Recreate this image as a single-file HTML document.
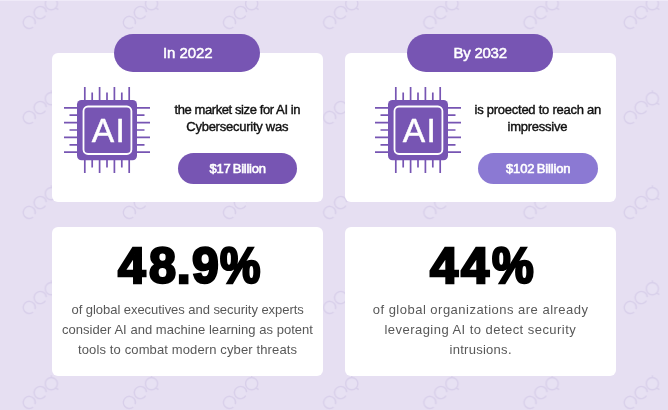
<!DOCTYPE html>
<html lang="en"><head><meta charset="utf-8"><title>AI in Cybersecurity statistics</title>
<style>
html,body{margin:0;padding:0}
body{width:668px;height:410px;overflow:hidden;position:relative;background:#e6dff2;font-family:"Liberation Sans",sans-serif}
.wm{position:absolute;left:0;top:0}
.topline{position:absolute;left:0;top:0;width:668px;height:1px;background:#efeaf8}
.card{position:absolute;background:#fff;border-radius:6px;margin:0}
.card>*{position:absolute;margin:0}
.pill{background:#7755b3;border-radius:19.2px;height:38.3px;width:146px;top:-18.9px;font-size:15px;font-weight:400;color:#fff;-webkit-text-stroke:0.5px #fff}
.btn{border-radius:16px;height:31.8px;width:119.6px;top:100px;word-spacing:-1.2px;background:#7755b3;font-size:13px;color:#fff;-webkit-text-stroke:0.6px #fff}
.btn.alt{background:#8b79d3}
.desc{left:0;top:0;font-size:13px;color:#111;-webkit-text-stroke:0.4px #111}
.copy{left:0;top:0;font-size:13px;color:#585858}
.ln{position:absolute;white-space:nowrap;line-height:1}
.chip{overflow:visible}
.big{width:150px;height:50px;font-size:50px;font-weight:700;line-height:1;color:#000;-webkit-text-stroke:2.5px #000;white-space:nowrap}
.g{position:absolute;top:0;transform-origin:0 0}
</style></head><body>
<svg class="wm" width="668" height="410" viewBox="0 0 668 410" aria-hidden="true">
<defs><pattern id="p" x="-9.885" y="-34.9" width="100.17" height="95" patternUnits="userSpaceOnUse">
<g transform="translate(50.085 47.5)" fill="#e7e1f3" stroke="#d8cfea" stroke-width="1.4">
<circle cx="-11" cy="9.9" r="6.1" stroke-dasharray="33.8 4.5" transform="rotate(50 -11 9.9)"/><circle cx="0" cy="0" r="6.1" stroke-dasharray="33.8 4.5" transform="rotate(30 0 0)"/><circle cx="11.1" cy="-8.9" r="6.1"/><path d="M15.3 -4.9l2.8 2M11.1 -15v-2.2"/></g>
</pattern></defs><rect width="668" height="410" fill="url(#p)"/></svg>
<div class="topline"></div>
<main>
<section class="card" style="left:52px;top:52.5px;width:271px;height:149px">
<h2 class="pill" style="left:62.2px"><span id="p1" class="ln" style="left:48.80px;top:11.80px;letter-spacing:-0.091px">In 2022</span></h2>
<svg class="chip" style="left:10px;top:32.5px" width="90" height="90" viewBox="-45 -45 90 90" role="img" aria-label="AI chip"><path d="M-22.2 -43V43M-43 -22.2H43M-14.8 -37.5V37.5M-37.5 -14.8H37.5M-7.4 -43V43M-43 -7.4H43M0 -37.5V37.5M-37.5 0H37.5M7.4 -43V43M-43 7.4H43M14.8 -37.5V37.5M-37.5 14.8H37.5M22.2 -43V43M-43 22.2H43" stroke="#7755b3" stroke-width="1.7" fill="none"/><rect x="-30" y="-30" width="60" height="60.3" rx="4.5" fill="#7755b3"/><rect x="-23.5" y="-23.5" width="47.9" height="47.5" rx="4.5" fill="none" stroke="#fff" stroke-width="1.8"/><text x="-15.2" y="11.5" font-family="Liberation Sans, sans-serif" font-size="33.6" letter-spacing="1.4" fill="#fff" stroke="#fff" stroke-width="0.5" stroke-linejoin="round">AI</text></svg>
<p class="desc"><span id="d1a" class="ln" style="left:122.50px;top:50.75px;letter-spacing:-0.410px">the market size for AI in</span><span id="d1b" class="ln" style="left:134.25px;top:67.25px;letter-spacing:-0.247px">Cybersecurity was</span></p>
<div class="btn" style="left:125.5px"><span id="b1" class="ln" style="left:32.10px;top:9.60px;letter-spacing:-0.240px">$17 Billion</span></div>
</section>
<section class="card" style="left:344.5px;top:52.5px;width:271.5px;height:149px">
<h2 class="pill" style="left:62.5px"><span id="p2" class="ln" style="left:46.50px;top:11.80px;letter-spacing:-0.258px">By 2032</span></h2>
<svg class="chip" style="left:28.2px;top:32.5px" width="90" height="90" viewBox="-45 -45 90 90" role="img" aria-label="AI chip"><path d="M-22.2 -43V43M-43 -22.2H43M-14.8 -37.5V37.5M-37.5 -14.8H37.5M-7.4 -43V43M-43 -7.4H43M0 -37.5V37.5M-37.5 0H37.5M7.4 -43V43M-43 7.4H43M14.8 -37.5V37.5M-37.5 14.8H37.5M22.2 -43V43M-43 22.2H43" stroke="#7755b3" stroke-width="1.7" fill="none"/><rect x="-30" y="-30" width="60" height="60.3" rx="4.5" fill="#7755b3"/><rect x="-23.5" y="-23.5" width="47.9" height="47.5" rx="4.5" fill="none" stroke="#fff" stroke-width="1.8"/><text x="-15.2" y="11.5" font-family="Liberation Sans, sans-serif" font-size="33.6" letter-spacing="1.4" fill="#fff" stroke="#fff" stroke-width="0.5" stroke-linejoin="round">AI</text></svg>
<p class="desc"><span id="d2a" class="ln" style="left:130.00px;top:50.75px;letter-spacing:-0.250px">is proected to reach an</span><span id="d2b" class="ln" style="left:163.00px;top:67.25px;letter-spacing:-0.236px">impressive</span></p>
<div class="btn alt" style="left:133.5px"><span id="b2" class="ln" style="left:28.00px;top:9.60px;letter-spacing:-0.129px">$102 Billion</span></div>
</section>
<section class="card" style="left:52px;top:227px;width:271px;height:149px">
<strong id="n3" class="big" style="left:65.50px;top:14.18px"><span class="g" style="left:0.00px;transform:scaleX(0.9914)">4</span><span class="g" style="left:31.25px;transform:scaleX(0.9722)">8</span><span class="g" style="left:59.25px;transform:scaleX(1.0000)">.</span><span class="g" style="left:74.04px;transform:scaleX(0.9615)">9</span><span class="g" style="left:102.50px;transform:scaleX(0.9091)">%</span></strong>
<p class="copy"><span id="t3a" class="ln" style="left:19.50px;top:76.25px;letter-spacing:-0.047px">of global executives and security experts</span><span id="t3b" class="ln" style="left:10.00px;top:96.25px;letter-spacing:0.040px">consider AI and machine learning as potent</span><span id="t3c" class="ln" style="left:26.00px;top:116.25px;letter-spacing:0.125px">tools to combat modern cyber threats</span></p>
</section>
<section class="card" style="left:344.5px;top:227px;width:271.5px;height:149px">
<strong id="n4" class="big" style="left:85.00px;top:14.18px"><span class="g" style="left:0.00px;transform:scaleX(1.0086)">4</span><span class="g" style="left:31.25px;transform:scaleX(1.0086)">4</span><span class="g" style="left:62.50px;transform:scaleX(0.9375)">%</span></strong>
<p class="copy"><span id="t4a" class="ln" style="left:28.25px;top:76.25px;letter-spacing:0.485px">of global organizations are already</span><span id="t4b" class="ln" style="left:40.00px;top:96.25px;letter-spacing:0.458px">leveraging AI to detect security</span><span id="t4c" class="ln" style="left:105.00px;top:116.25px;letter-spacing:0.275px">intrusions.</span></p>
</section>
</main>
</body></html>
